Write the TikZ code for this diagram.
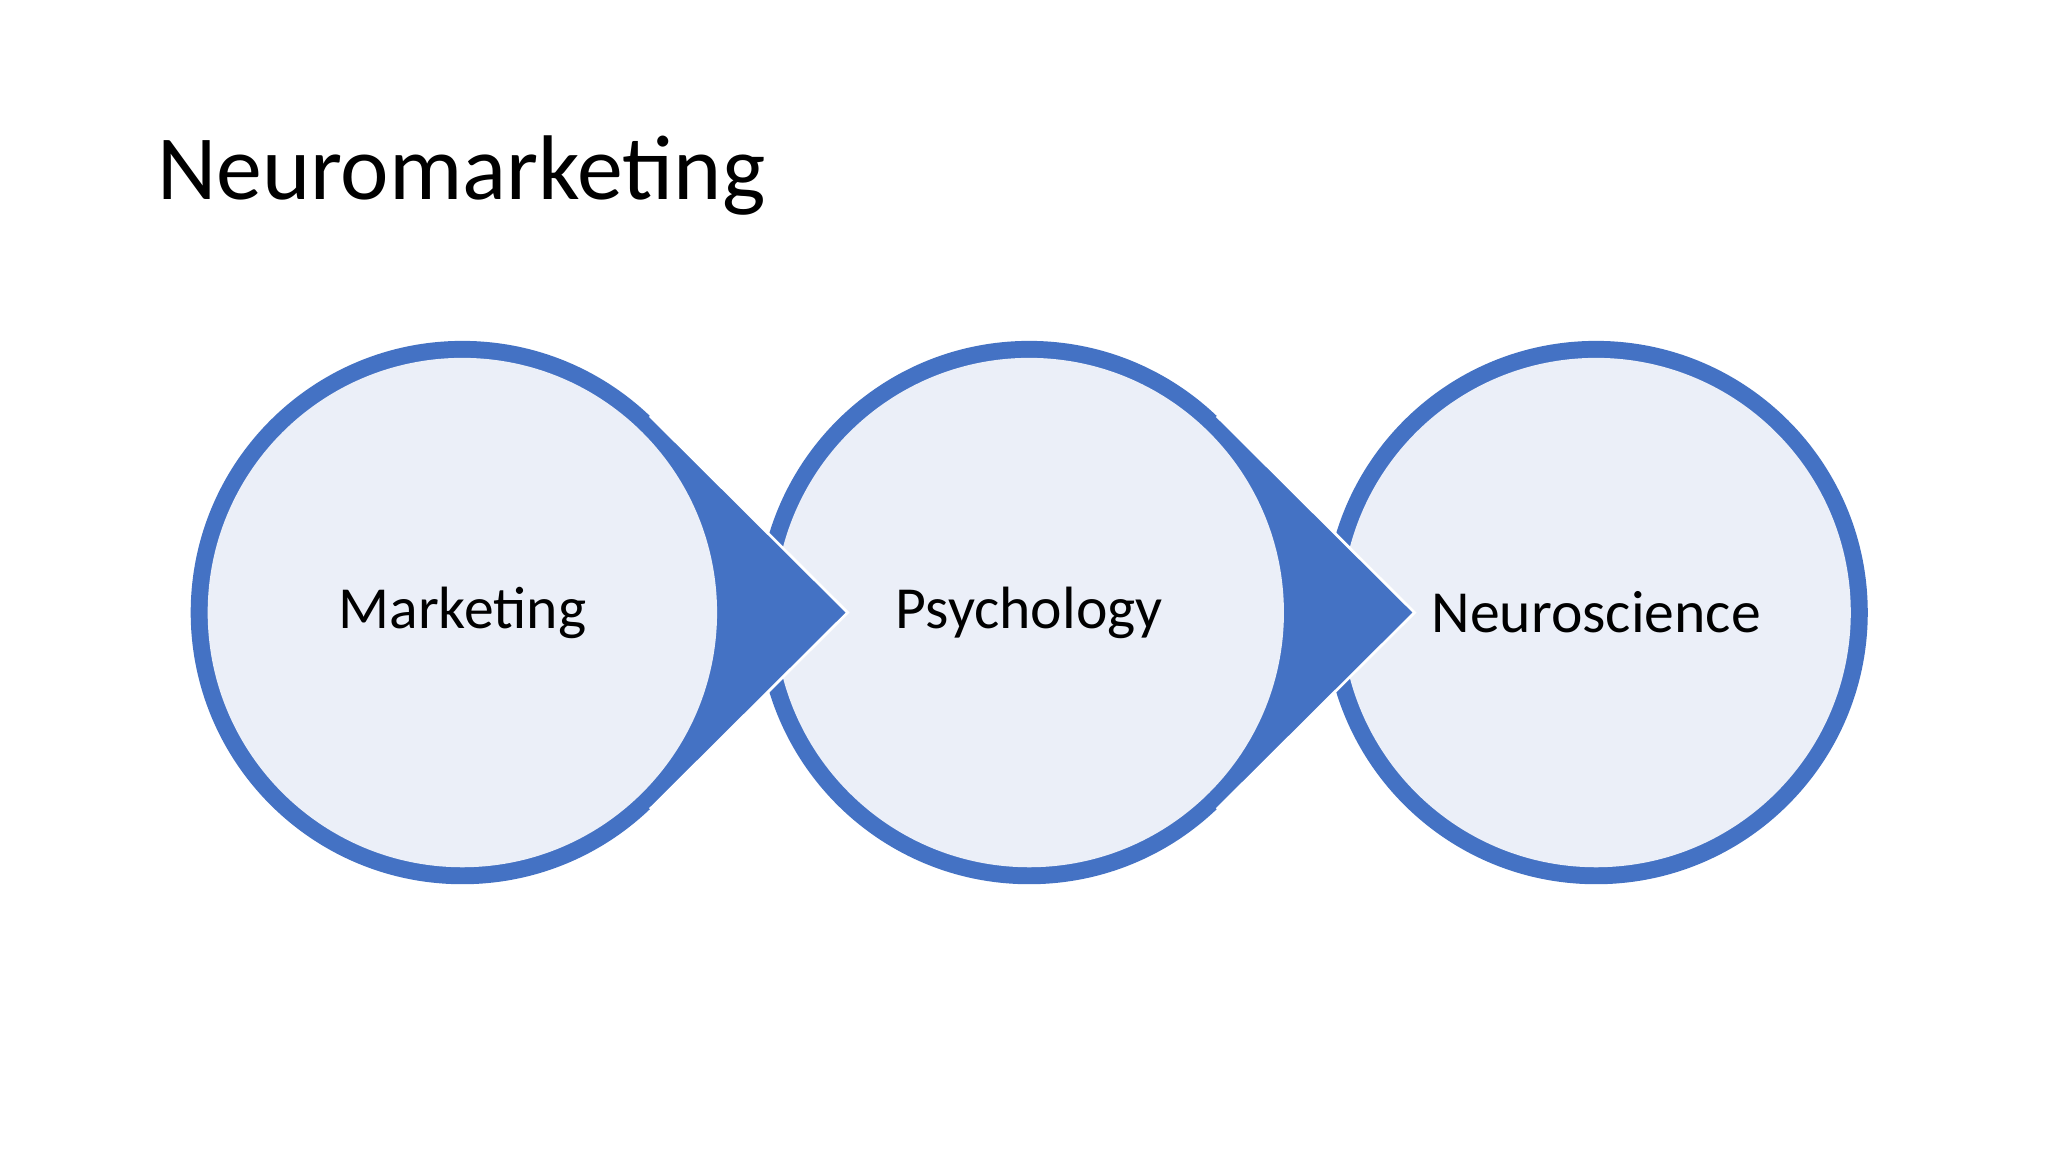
\documentclass[tikz,border=0pt]{standalone}
\usepackage{fontspec}
\setmainfont{Carlito}
\usetikzlibrary{calc}
\definecolor{ring}{HTML}{4472C4}
\definecolor{inner}{HTML}{EBEFF8}
\begin{document}
\begin{tikzpicture}
\useasboundingbox (0,0) rectangle (31.36,17.64);
\fill[white] (0,0) rectangle (31.36,17.64);
\tikzset{outerc/.style={circle,fill=ring,minimum size=8.32cm,inner sep=0pt},
 innerc/.style={circle,fill=inner,minimum size=7.8cm,inner sep=0pt,font=\fontsize{26}{30}\selectfont}}
\node[anchor=base west,inner sep=0pt,font=\fontsize{40}{48}\selectfont] (title) at (2.40,14.58) {Neuromarketing};
\foreach \i/\x/\t in {3/24.44/Neuroscience,2/15.76/Psychology,1/7.08/Marketing}{
  \node[outerc] (o\i) at (\x,8.26) {};
  \coordinate (tip\i) at (\x+5.9,8.26);
  \coordinate (u\i) at (\x+2.932,8.26+2.952);
  \coordinate (l\i) at (\x+2.932,8.26-2.952);
  \ifnum\i<3
  \fill[ring] (o\i.center) -- (u\i) -- (tip\i) -- (l\i) -- cycle;
  \draw[white,line width=1.2pt] ($(u\i)!-0.02!(tip\i)$) -- (tip\i) -- ($(l\i)!-0.02!(tip\i)$);
  \fi
  \node[innerc] (n\i) at (\x,8.26) {\t};
}
\end{tikzpicture}
\end{document}
